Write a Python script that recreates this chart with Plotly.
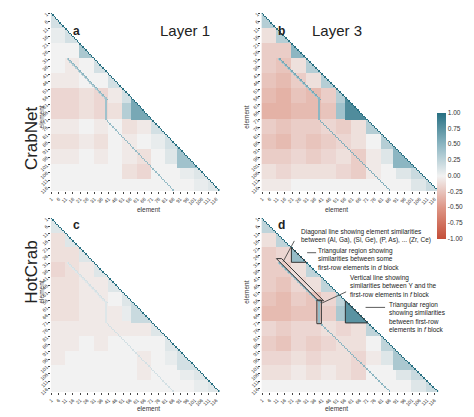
import numpy as np
import plotly.graph_objects as go

n_el = 118
elements = list(range(1, n_el + 1))
tick_vals = list(range(1, n_el + 1, 5))
tick_text = [str(v) for v in tick_vals]
cbar_ticks = [-1.0, -0.75, -0.5, -0.25, 0.0, 0.25, 0.5, 0.75, 1.0]

# coarse block averages (10 elements per block), lower triangle, read by eye
blocks_a = [
    [0.15],
    [0.05, 0.15],
    [0.0, 0.0, 0.15],
    [0.0, -0.05, 0.0, 0.15],
    [-0.05, -0.05, 0.0, 0.0, 0.15],
    [-0.15, -0.15, -0.1, -0.15, -0.05, 0.15],
    [-0.15, -0.15, -0.1, -0.15, -0.1, 0.3, 0.4],
    [-0.05, -0.05, 0.0, -0.05, 0.0, -0.1, -0.05, 0.15],
    [-0.1, -0.1, -0.05, -0.1, 0.0, -0.05, 0.0, 0.05, 0.15],
    [-0.05, -0.05, 0.0, -0.05, 0.0, -0.05, -0.1, 0.0, 0.1, 0.15],
    [0.0, 0.0, 0.0, 0.0, 0.0, -0.1, -0.15, 0.0, 0.0, 0.05, 0.1],
    [0.0, 0.0, 0.0, 0.0, 0.0, 0.0, 0.0, 0.0, 0.0, 0.0, 0.05, 0.1],
]
blocks_b = [
    [0.3],
    [-0.1, 0.3],
    [-0.2, -0.2, 0.3],
    [-0.2, -0.25, -0.1, 0.3],
    [-0.25, -0.3, -0.2, -0.1, 0.3],
    [-0.3, -0.35, -0.25, -0.3, -0.2, 0.3],
    [-0.35, -0.35, -0.3, -0.3, -0.25, 0.4, 0.6],
    [-0.2, -0.25, -0.2, -0.2, -0.15, -0.2, -0.1, 0.3],
    [-0.25, -0.3, -0.2, -0.25, -0.2, -0.15, -0.1, 0.0, 0.3],
    [-0.2, -0.2, -0.15, -0.2, -0.15, -0.1, -0.2, -0.05, 0.1, 0.3],
    [-0.1, -0.15, -0.1, -0.1, -0.1, -0.15, -0.2, -0.05, 0.0, 0.1, 0.2],
    [-0.05, -0.05, 0.0, 0.0, 0.0, 0.0, 0.0, 0.0, 0.0, 0.0, 0.1, 0.2],
]
blocks_c = [
    [0.1],
    [-0.1, 0.1],
    [-0.1, -0.1, 0.1],
    [-0.15, -0.1, -0.05, 0.1],
    [-0.1, -0.1, -0.05, -0.05, 0.1],
    [-0.1, -0.1, -0.05, -0.05, 0.0, 0.1],
    [-0.1, -0.1, -0.05, -0.05, -0.05, 0.05, 0.15],
    [-0.05, -0.05, -0.05, -0.05, -0.05, -0.05, -0.05, 0.1],
    [-0.05, -0.05, 0.0, -0.05, 0.0, 0.0, 0.0, 0.0, 0.1],
    [-0.05, 0.0, 0.0, 0.0, 0.0, 0.0, -0.05, 0.0, 0.05, 0.1],
    [0.0, 0.0, 0.0, 0.0, 0.0, 0.0, -0.05, 0.0, 0.0, 0.05, 0.1],
    [0.0, 0.0, 0.0, 0.0, 0.0, 0.0, 0.0, 0.0, 0.0, 0.0, 0.05, 0.1],
]
blocks_d = [
    [0.25],
    [-0.1, 0.25],
    [-0.2, -0.15, 0.25],
    [-0.2, -0.2, -0.1, 0.25],
    [-0.2, -0.25, -0.15, -0.1, 0.25],
    [-0.25, -0.3, -0.2, -0.25, -0.15, 0.25],
    [-0.3, -0.3, -0.25, -0.25, -0.2, 0.35, 0.55],
    [-0.15, -0.2, -0.15, -0.15, -0.1, -0.15, -0.1, 0.25],
    [-0.2, -0.25, -0.15, -0.2, -0.15, -0.1, -0.1, 0.0, 0.25],
    [-0.15, -0.15, -0.1, -0.15, -0.1, -0.1, -0.15, -0.05, 0.1, 0.25],
    [-0.1, -0.1, -0.05, -0.1, -0.05, -0.1, -0.15, 0.0, 0.0, 0.1, 0.2],
    [0.0, 0.0, 0.0, 0.0, 0.0, 0.0, 0.0, 0.0, 0.0, 0.0, 0.1, 0.2],
]
# strength of visible features: offset-18 line, offset-32 line, Y column, f-block tri, d-block tri, actinide tri
features_a = [0.5, 0.45, 0.4, 0.6, 0.35, 0.4]
features_b = [0.6, 0.55, 0.5, 0.8, 0.5, 0.5]
features_c = [0.15, 0.15, 0.1, 0.2, 0.1, 0.15]
features_d = [0.55, 0.5, 0.45, 0.75, 0.45, 0.35]


def build(blocks, feats):
    coarse = np.zeros((12, 12))
    for r, row in enumerate(blocks):
        for c, v in enumerate(row):
            coarse[r, c] = v
    z = np.kron(coarse, np.ones((10, 10)))[:n_el, :n_el]
    for col in range(13, 41):
        z[col + 18 - 1, col - 1] = feats[0]
        z[col + 18 - 1, col - 2] = feats[0] * 0.6
    for col in range(40, 87):
        if col + 32 <= n_el:
            z[col + 32 - 1, col - 1] = feats[1]
    z[56:71, 38] = feats[2]
    for i in range(57, 72):
        z[i - 1, 56:i] = feats[3]
    for i in range(21, 31):
        z[i - 1, 20:i] = np.maximum(z[i - 1, 20:i], feats[4])
    for i in range(89, 104):
        z[i - 1, 88:i] = feats[5]
    np.fill_diagonal(z, 1.0)
    z = z.astype(object)
    for i in range(n_el):
        for j in range(i + 1, n_el):
            z[i, j] = None
    return z.tolist()


colorscale = [[0.0, "rgb(196,78,56)"], [0.25, "rgb(222,150,134)"], [0.5, "rgb(242,242,242)"],
              [0.75, "rgb(140,182,194)"], [1.0, "rgb(40,112,130)"]]

fig = go.Figure()
panels = [(blocks_a, features_a), (blocks_b, features_b), (blocks_c, features_c), (blocks_d, features_d)]
xdoms = [[40 / 474, 210 / 474], [252 / 474, 430 / 474], [40 / 474, 210 / 474], [252 / 474, 430 / 474]]
ydoms = [[1 - 184 / 417, 1 - 3 / 417], [1 - 184 / 417, 1 - 3 / 417],
         [1 - 388 / 417, 1 - 211 / 417], [1 - 388 / 417, 1 - 211 / 417]]
tick_font = dict(family="Liberation Sans", size=5, color="#333")
for k, (bl, ft) in enumerate(panels):
    ax = "" if k == 0 else str(k + 1)
    fig.add_trace(go.Heatmap(
        z=build(bl, ft), x=elements, y=elements, zmin=-1, zmax=1, colorscale=colorscale,
        xaxis="x" + ax, yaxis="y" + ax, showscale=(k == 0), hoverongaps=False,
        colorbar=dict(x=429 / 474, xanchor="left", xpad=0, y=1 - 168 / 417, len=148 / 417, thickness=9,
                      tickvals=cbar_ticks, ticktext=["%.2f" % v for v in cbar_ticks], ticklen=3,
                      tickfont=dict(family="Liberation Sans", size=6.5, color="#333"), outlinewidth=0)))
    fig.update_layout(**{
        "xaxis" + ax: dict(domain=xdoms[k], anchor="y" + ax, range=[0.5, n_el + 0.5], tickvals=tick_vals,
                           ticktext=tick_text, tickangle=-45, tickfont=tick_font, showgrid=False, zeroline=False,
                           ticks="outside", ticklen=2),
        "yaxis" + ax: dict(domain=ydoms[k], anchor="x" + ax, range=[n_el + 0.5, 0.5], tickvals=tick_vals,
                           ticktext=tick_text, tickangle=-45, tickfont=tick_font, showgrid=False, zeroline=False,
                           ticks="outside", ticklen=2),
    })

ann = []
title_font = dict(family="Liberation Sans", size=6.5, color="#333")
for px, py in [(125, 202), (341, 202), (125, 410), (341, 410)]:
    ann.append(dict(text="element", x=px / 474, y=1 - py / 417, xref="paper", yref="paper",
                    showarrow=False, font=title_font))
for px, py in [(25, 95), (237, 95), (25, 300), (237, 300)]:
    ann.append(dict(text="element", x=px / 474, y=1 - py / 417, xref="paper", yref="paper",
                    showarrow=False, textangle=-90, font=title_font))
for txt, px, py in [("a", 60, 12), ("b", 272, 12), ("c", 60, 218), ("d", 272, 218)]:
    ann.append(dict(text="<b>%s</b>" % txt, x=px / 474, y=1 - py / 417, xref="paper", yref="paper",
                    showarrow=False, font=dict(family="Liberation Sans", size=12, color="#222")))
for txt, px in [("Layer 1", 148), ("Layer 3", 355)]:
    ann.append(dict(text=txt, x=px / 474, y=1 - 10 / 417, xref="paper", yref="paper", showarrow=False,
                    font=dict(family="Liberation Sans", size=15, color="#222")))
for txt, py in [("CrabNet", 95), ("HotCrab", 300)]:
    ann.append(dict(text=txt, x=9 / 474, y=1 - py / 417, xref="paper", yref="paper", showarrow=False,
                    textangle=-90, font=dict(family="Liberation Sans", size=17, color="#222")))

note_font = dict(family="Liberation Sans", size=6.5, color="#222")
notes = [
    ("Diagonal line showing element similarities<br>between (Al, Ga), (Si, Ge), (P, As), ... (Zr, Ce)", 290, 219),
    ("Triangular region showing<br>similarities between some<br>first-row elements in <i>d</i> block", 307, 238),
    ("Vertical line showing<br>similarities between Y and the<br>first-row elements in <i>f</i> block", 339, 266),
    ("Triangular region<br>showing similarities<br>between first-row<br>elements in <i>f</i> block", 378, 293),
]
for txt, px, py in notes:
    ann.append(dict(text=txt, x=px / 474, y=1 - py / 417, xref="paper", yref="paper", xanchor="left",
                    yanchor="top", align="left", showarrow=False, font=note_font))
# arrows in panel d data coordinates (head, tail)
for hx, hy, tx, ty in [(15, 30, 23, 15), (31, 24, 38, 24), (41, 58, 58, 50), (70, 61, 84, 61)]:
    ann.append(dict(x=hx, y=hy, ax=tx, ay=ty, xref="x4", yref="y4", axref="x4", ayref="y4", text="",
                    showarrow=True, arrowhead=0, arrowwidth=0.8, arrowcolor="#333"))

shp = dict(xref="x4", yref="y4", line=dict(color="#333", width=1))
shapes = [
    dict(type="path", path="M 10.5 28 L 14 28 L 42 56.5 L 38.5 56.5 Z", **shp),
    dict(type="rect", x0=37.5, x1=40.5, y0=56, y1=72, **shp),
    dict(type="path", path="M 20.5 20.5 L 20.5 30.5 L 30.5 30.5 Z", **shp),
    dict(type="path", path="M 56.5 56.5 L 56.5 71.5 L 71.5 71.5 Z", **shp),
]

fig.update_layout(width=474, height=417, margin=dict(l=0, r=0, t=0, b=0), paper_bgcolor="white",
                  plot_bgcolor="white", annotations=ann, shapes=shapes,
                  font=dict(family="Liberation Sans"))
fig.write_html("out.html")
